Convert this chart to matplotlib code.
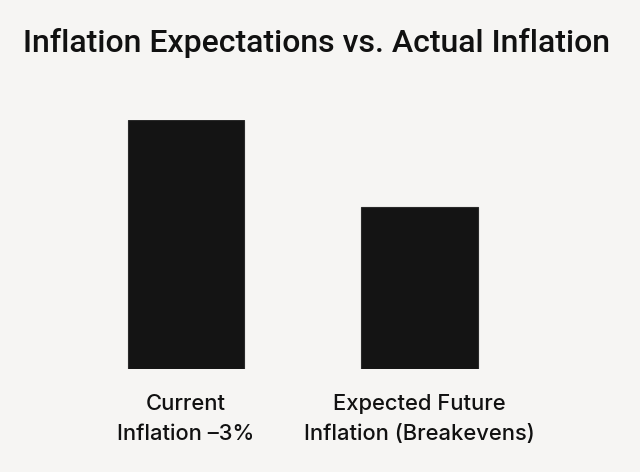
import matplotlib
matplotlib.use("Agg")
import matplotlib.pyplot as plt

categories = ["Current\nInflation –3%", "Expected Future\nInflation (Breakevens)"]
values = [3.0, 1.95]
title = "Inflation Expectations vs. Actual Inflation"

W, H = 640, 472
bg = "#f6f5f3"
fig = plt.figure(figsize=(W/100, H/100), dpi=100, facecolor=bg)
# axes bottom at y=369px, top at y=120px (from top)
ax = fig.add_axes([0, 1 - 369/H, 1, (369-120)/H])
ax.set_facecolor(bg)
x = list(range(len(categories)))
ax.bar(x, values, width=0.497, color="#141414", edgecolor="#2a2a2a", linewidth=0.8)
ax.set_xlim(-186/233.5, (640-186)/233.5)
ax.set_ylim(0, 3.0)
ax.axis("off")

fig.text(316.5/W, 1 - 52/H, title, ha="center", va="baseline", fontsize=23,
         fontfamily="Roboto", fontweight="medium", color="#111111")
centers = [186, 419]
for c, lab in zip(centers, categories):
    for line, base in zip(lab.split("\n"), [410, 440]):
        fig.text(c/W, 1 - base/H, line, ha="center", va="baseline", fontsize=15.8,
                 fontfamily="Inter", fontweight="medium", color="#111111")

fig.savefig("out.png", dpi=100, facecolor=bg)
